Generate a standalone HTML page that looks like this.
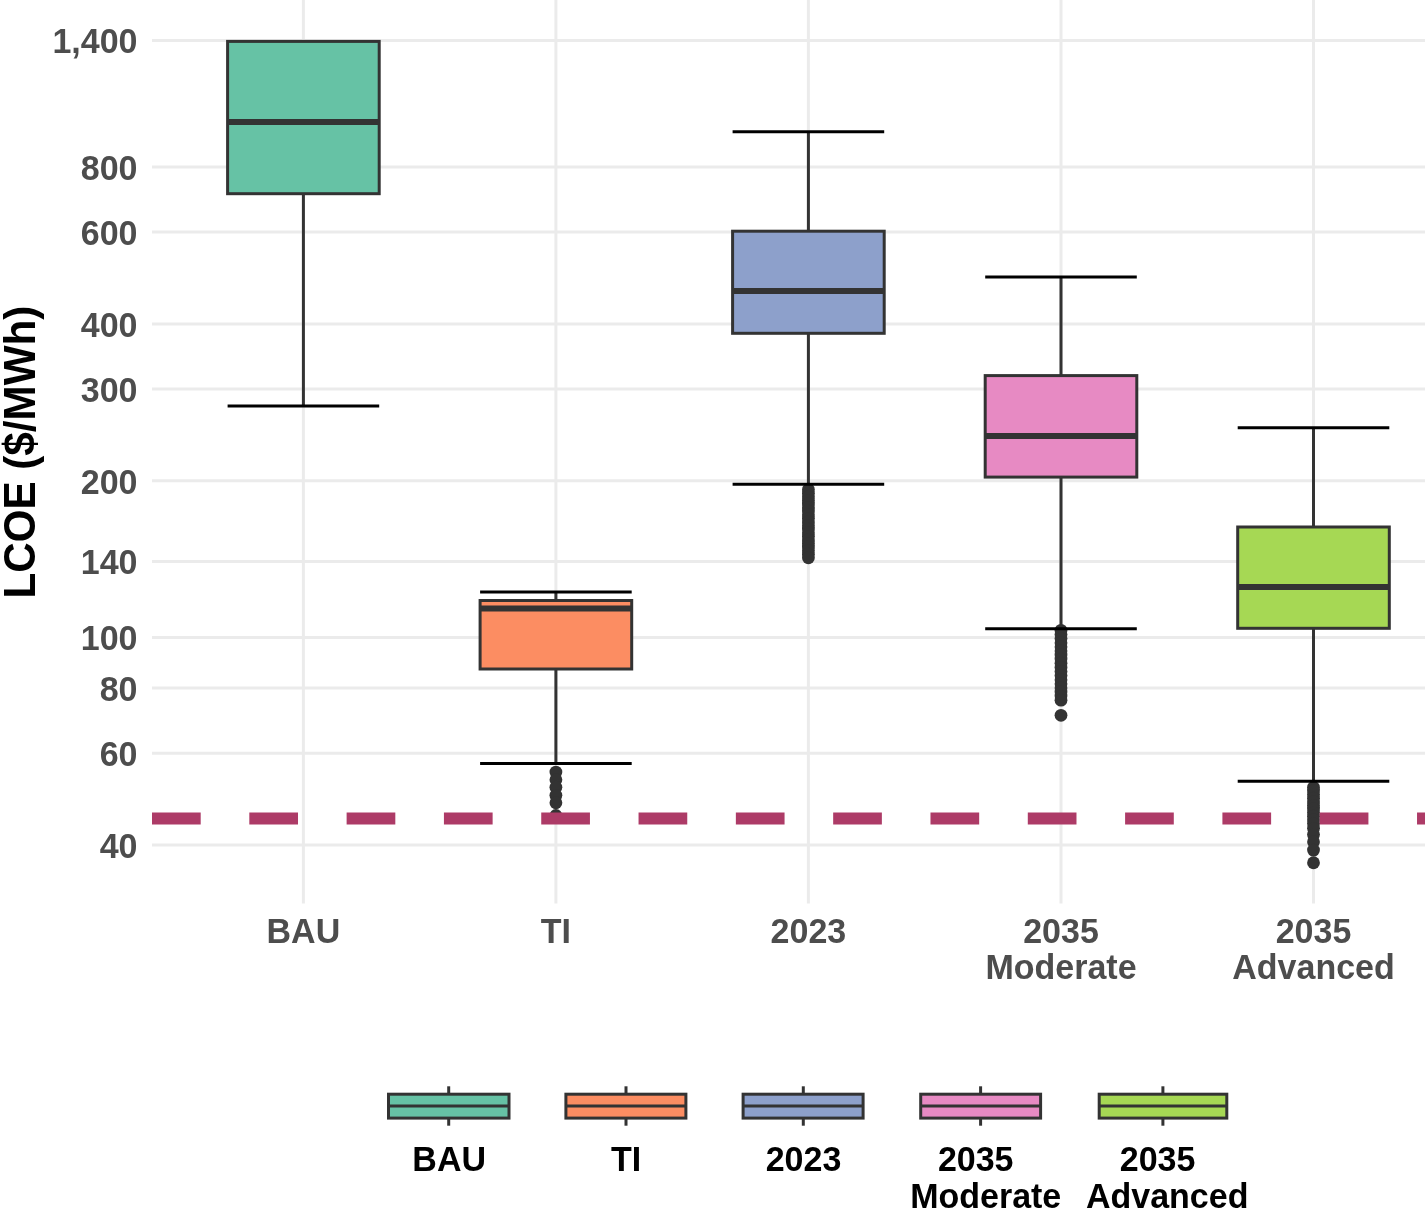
<!DOCTYPE html>
<html><head><meta charset="utf-8"><title>LCOE boxplot</title>
<style>html,body{margin:0;padding:0;background:#fff;}body{width:1425px;height:1209px;overflow:hidden;}svg{display:block;}text{font-family:"Liberation Sans",sans-serif;font-weight:bold;}.ax{font-size:34px;fill:#4d4d4d;}.lg{font-size:34px;fill:#000;}.yt{font-size:42.2px;fill:#000;}.g{stroke:#ebebeb;stroke-width:3;fill:none;}.b{stroke:#333;stroke-width:3;}.m{stroke:#333;stroke-width:6;}.w{stroke:#333;stroke-width:3;}.c{stroke:#000;stroke-width:3;}.o{fill:#333;}</style></head><body>
<svg width="1425" height="1209" viewBox="0 0 1425 1209">
<rect width="1425" height="1209" fill="#fff"/>
<line class="g" x1="152" x2="1425" y1="40.4" y2="40.4"/>
<line class="g" x1="152" x2="1425" y1="167.0" y2="167.0"/>
<line class="g" x1="152" x2="1425" y1="232.1" y2="232.1"/>
<line class="g" x1="152" x2="1425" y1="323.9" y2="323.9"/>
<line class="g" x1="152" x2="1425" y1="389.0" y2="389.0"/>
<line class="g" x1="152" x2="1425" y1="480.8" y2="480.8"/>
<line class="g" x1="152" x2="1425" y1="561.5" y2="561.5"/>
<line class="g" x1="152" x2="1425" y1="637.6" y2="637.6"/>
<line class="g" x1="152" x2="1425" y1="688.1" y2="688.1"/>
<line class="g" x1="152" x2="1425" y1="753.2" y2="753.2"/>
<line class="g" x1="152" x2="1425" y1="845.0" y2="845.0"/>
<line class="g" x1="303.4" x2="303.4" y1="0" y2="903.5"/>
<line class="g" x1="555.9" x2="555.9" y1="0" y2="903.5"/>
<line class="g" x1="808.4" x2="808.4" y1="0" y2="903.5"/>
<line class="g" x1="1061.0" x2="1061.0" y1="0" y2="903.5"/>
<line class="g" x1="1313.5" x2="1313.5" y1="0" y2="903.5"/>
<text class="ax" transform="translate(137.5,53.1) scale(1,1.05)" text-anchor="end">1,400</text>
<text class="ax" transform="translate(137.5,179.7) scale(1,1.05)" text-anchor="end">800</text>
<text class="ax" transform="translate(137.5,244.8) scale(1,1.05)" text-anchor="end">600</text>
<text class="ax" transform="translate(137.5,336.6) scale(1,1.05)" text-anchor="end">400</text>
<text class="ax" transform="translate(137.5,401.7) scale(1,1.05)" text-anchor="end">300</text>
<text class="ax" transform="translate(137.5,493.5) scale(1,1.05)" text-anchor="end">200</text>
<text class="ax" transform="translate(137.5,574.2) scale(1,1.05)" text-anchor="end">140</text>
<text class="ax" transform="translate(137.5,650.3) scale(1,1.05)" text-anchor="end">100</text>
<text class="ax" transform="translate(137.5,700.8) scale(1,1.05)" text-anchor="end">80</text>
<text class="ax" transform="translate(137.5,765.9) scale(1,1.05)" text-anchor="end">60</text>
<text class="ax" transform="translate(137.5,857.7) scale(1,1.05)" text-anchor="end">40</text>
<text class="yt" transform="translate(35.2,598.6) rotate(-90) scale(1,1.06)">LCOE ($/MWh)</text>
<line class="w" x1="303.4" x2="303.4" y1="193.7" y2="406"/>
<rect class="b" x="227.6" y="41.4" width="151.6" height="152.3" fill="#66C2A5"/>
<line class="m" x1="227.6" x2="379.2" y1="122" y2="122"/>
<line class="c" x1="227.6" x2="379.2" y1="406" y2="406"/>
<circle class="o" cx="555.9" cy="772.1" r="6.4"/>
<circle class="o" cx="555.9" cy="779.8" r="6.4"/>
<circle class="o" cx="555.9" cy="787.2" r="6.4"/>
<circle class="o" cx="555.9" cy="795.3" r="6.4"/>
<circle class="o" cx="555.9" cy="802.8" r="6.4"/>
<circle class="o" cx="555.9" cy="815.5" r="6.4"/>
<line class="w" x1="555.9" x2="555.9" y1="592" y2="600.5"/>
<line class="w" x1="555.9" x2="555.9" y1="669" y2="763.5"/>
<rect class="b" x="480.1" y="600.5" width="151.6" height="68.5" fill="#FC8D62"/>
<line class="m" x1="480.1" x2="631.7" y1="608.4" y2="608.4"/>
<line class="c" x1="480.1" x2="631.7" y1="592" y2="592"/>
<line class="c" x1="480.1" x2="631.7" y1="763.5" y2="763.5"/>
<circle class="o" cx="808.4" cy="489.6" r="6.4"/>
<circle class="o" cx="808.4" cy="493.2" r="6.4"/>
<circle class="o" cx="808.4" cy="496.8" r="6.4"/>
<circle class="o" cx="808.4" cy="500.4" r="6.4"/>
<circle class="o" cx="808.4" cy="504.0" r="6.4"/>
<circle class="o" cx="808.4" cy="507.5" r="6.4"/>
<circle class="o" cx="808.4" cy="511.1" r="6.4"/>
<circle class="o" cx="808.4" cy="514.7" r="6.4"/>
<circle class="o" cx="808.4" cy="518.3" r="6.4"/>
<circle class="o" cx="808.4" cy="521.9" r="6.4"/>
<circle class="o" cx="808.4" cy="525.5" r="6.4"/>
<circle class="o" cx="808.4" cy="529.1" r="6.4"/>
<circle class="o" cx="808.4" cy="532.7" r="6.4"/>
<circle class="o" cx="808.4" cy="536.3" r="6.4"/>
<circle class="o" cx="808.4" cy="539.9" r="6.4"/>
<circle class="o" cx="808.4" cy="543.4" r="6.4"/>
<circle class="o" cx="808.4" cy="547.0" r="6.4"/>
<circle class="o" cx="808.4" cy="550.6" r="6.4"/>
<circle class="o" cx="808.4" cy="554.2" r="6.4"/>
<circle class="o" cx="808.4" cy="557.8" r="6.4"/>
<line class="w" x1="808.4" x2="808.4" y1="131.7" y2="231.2"/>
<line class="w" x1="808.4" x2="808.4" y1="333.3" y2="484.2"/>
<rect class="b" x="732.6" y="231.2" width="151.6" height="102.1" fill="#8DA0CB"/>
<line class="m" x1="732.6" x2="884.2" y1="291.1" y2="291.1"/>
<line class="c" x1="732.6" x2="884.2" y1="131.7" y2="131.7"/>
<line class="c" x1="732.6" x2="884.2" y1="484.2" y2="484.2"/>
<circle class="o" cx="1061.0" cy="630.4" r="6.4"/>
<circle class="o" cx="1061.0" cy="634.5" r="6.4"/>
<circle class="o" cx="1061.0" cy="638.6" r="6.4"/>
<circle class="o" cx="1061.0" cy="642.7" r="6.4"/>
<circle class="o" cx="1061.0" cy="646.8" r="6.4"/>
<circle class="o" cx="1061.0" cy="650.9" r="6.4"/>
<circle class="o" cx="1061.0" cy="655.0" r="6.4"/>
<circle class="o" cx="1061.0" cy="659.1" r="6.4"/>
<circle class="o" cx="1061.0" cy="663.2" r="6.4"/>
<circle class="o" cx="1061.0" cy="667.4" r="6.4"/>
<circle class="o" cx="1061.0" cy="671.5" r="6.4"/>
<circle class="o" cx="1061.0" cy="675.6" r="6.4"/>
<circle class="o" cx="1061.0" cy="679.7" r="6.4"/>
<circle class="o" cx="1061.0" cy="683.8" r="6.4"/>
<circle class="o" cx="1061.0" cy="687.9" r="6.4"/>
<circle class="o" cx="1061.0" cy="692.0" r="6.4"/>
<circle class="o" cx="1061.0" cy="696.1" r="6.4"/>
<circle class="o" cx="1061.0" cy="700.2" r="6.4"/>
<circle class="o" cx="1061.0" cy="715.3" r="6.4"/>
<line class="w" x1="1061.0" x2="1061.0" y1="276.9" y2="375.6"/>
<line class="w" x1="1061.0" x2="1061.0" y1="477.1" y2="628.7"/>
<rect class="b" x="985.2" y="375.6" width="151.6" height="101.5" fill="#E78AC3"/>
<line class="m" x1="985.2" x2="1136.8" y1="436" y2="436"/>
<line class="c" x1="985.2" x2="1136.8" y1="276.9" y2="276.9"/>
<line class="c" x1="985.2" x2="1136.8" y1="628.7" y2="628.7"/>
<circle class="o" cx="1313.5" cy="787.4" r="6.4"/>
<circle class="o" cx="1313.5" cy="791.0" r="6.4"/>
<circle class="o" cx="1313.5" cy="794.6" r="6.4"/>
<circle class="o" cx="1313.5" cy="798.2" r="6.4"/>
<circle class="o" cx="1313.5" cy="801.8" r="6.4"/>
<circle class="o" cx="1313.5" cy="805.4" r="6.4"/>
<circle class="o" cx="1313.5" cy="809.0" r="6.4"/>
<circle class="o" cx="1313.5" cy="812.6" r="6.4"/>
<circle class="o" cx="1313.5" cy="816.2" r="6.4"/>
<circle class="o" cx="1313.5" cy="819.8" r="6.4"/>
<circle class="o" cx="1313.5" cy="823.5" r="6.4"/>
<circle class="o" cx="1313.5" cy="828.3" r="6.4"/>
<circle class="o" cx="1313.5" cy="834.6" r="6.4"/>
<circle class="o" cx="1313.5" cy="841.9" r="6.4"/>
<circle class="o" cx="1313.5" cy="850.1" r="6.4"/>
<circle class="o" cx="1313.5" cy="862.75" r="6.4"/>
<line class="w" x1="1313.5" x2="1313.5" y1="427.8" y2="527"/>
<line class="w" x1="1313.5" x2="1313.5" y1="628.3" y2="781.2"/>
<rect class="b" x="1237.7" y="527" width="151.6" height="101.3" fill="#A6D854"/>
<line class="m" x1="1237.7" x2="1389.3" y1="587.1" y2="587.1"/>
<line class="c" x1="1237.7" x2="1389.3" y1="427.8" y2="427.8"/>
<line class="c" x1="1237.7" x2="1389.3" y1="781.2" y2="781.2"/>
<line x1="152" x2="1425" y1="818.6" y2="818.6" stroke="#AD3B67" stroke-width="12" stroke-dasharray="48.7 48.61"/>
<text class="ax" transform="translate(303.4,942.6) scale(1,1.05)" text-anchor="middle">BAU</text>
<text class="ax" transform="translate(555.9,942.6) scale(1,1.05)" text-anchor="middle">TI</text>
<text class="ax" transform="translate(808.4,942.6) scale(1,1.05)" text-anchor="middle">2023</text>
<text class="ax" transform="translate(1061.0,942.6) scale(1,1.05)" text-anchor="middle">2035</text>
<text class="ax" transform="translate(1061.0,979.4) scale(1,1.05)" text-anchor="middle">Moderate</text>
<text class="ax" transform="translate(1313.5,942.6) scale(1,1.05)" text-anchor="middle">2035</text>
<text class="ax" transform="translate(1313.5,979.4) scale(1,1.05)" text-anchor="middle">Advanced</text>
<line class="w" x1="448.7" x2="448.7" y1="1086.3" y2="1125.7"/>
<rect class="b" x="388.5" y="1094.2" width="120.5" height="23.9" fill="#66C2A5"/>
<line class="b" x1="388.5" x2="509.0" y1="1106" y2="1106"/>
<line class="w" x1="626" x2="626" y1="1086.3" y2="1125.7"/>
<rect class="b" x="565.9" y="1094.2" width="120.0" height="23.9" fill="#FC8D62"/>
<line class="b" x1="565.9" x2="685.9" y1="1106" y2="1106"/>
<line class="w" x1="803.3" x2="803.3" y1="1086.3" y2="1125.7"/>
<rect class="b" x="743.1" y="1094.2" width="120.0" height="23.9" fill="#8DA0CB"/>
<line class="b" x1="743.1" x2="863.1" y1="1106" y2="1106"/>
<line class="w" x1="980.6" x2="980.6" y1="1086.3" y2="1125.7"/>
<rect class="b" x="920.7" y="1094.2" width="119.9" height="23.9" fill="#E78AC3"/>
<line class="b" x1="920.7" x2="1040.6" y1="1106" y2="1106"/>
<line class="w" x1="1162.9" x2="1162.9" y1="1086.3" y2="1125.7"/>
<rect class="b" x="1099.2" y="1094.2" width="127.6" height="23.9" fill="#A6D854"/>
<line class="b" x1="1099.2" x2="1226.8" y1="1106" y2="1106"/>
<text class="lg" transform="translate(449.2,1171) scale(1,1.05)" text-anchor="middle">BAU</text>
<text class="lg" transform="translate(626.2,1171) scale(1,1.05)" text-anchor="middle">TI</text>
<text class="lg" transform="translate(803.5,1171) scale(1,1.05)" text-anchor="middle">2023</text>
<text class="lg" transform="translate(975.7,1171) scale(1,1.05)" text-anchor="middle">2035</text>
<text class="lg" transform="translate(985.7,1207.8) scale(1,1.05)" text-anchor="middle">Moderate</text>
<text class="lg" transform="translate(1157.6,1171) scale(1,1.05)" text-anchor="middle">2035</text>
<text class="lg" transform="translate(1167.2,1207.8) scale(1,1.05)" text-anchor="middle">Advanced</text>
</svg></body></html>
